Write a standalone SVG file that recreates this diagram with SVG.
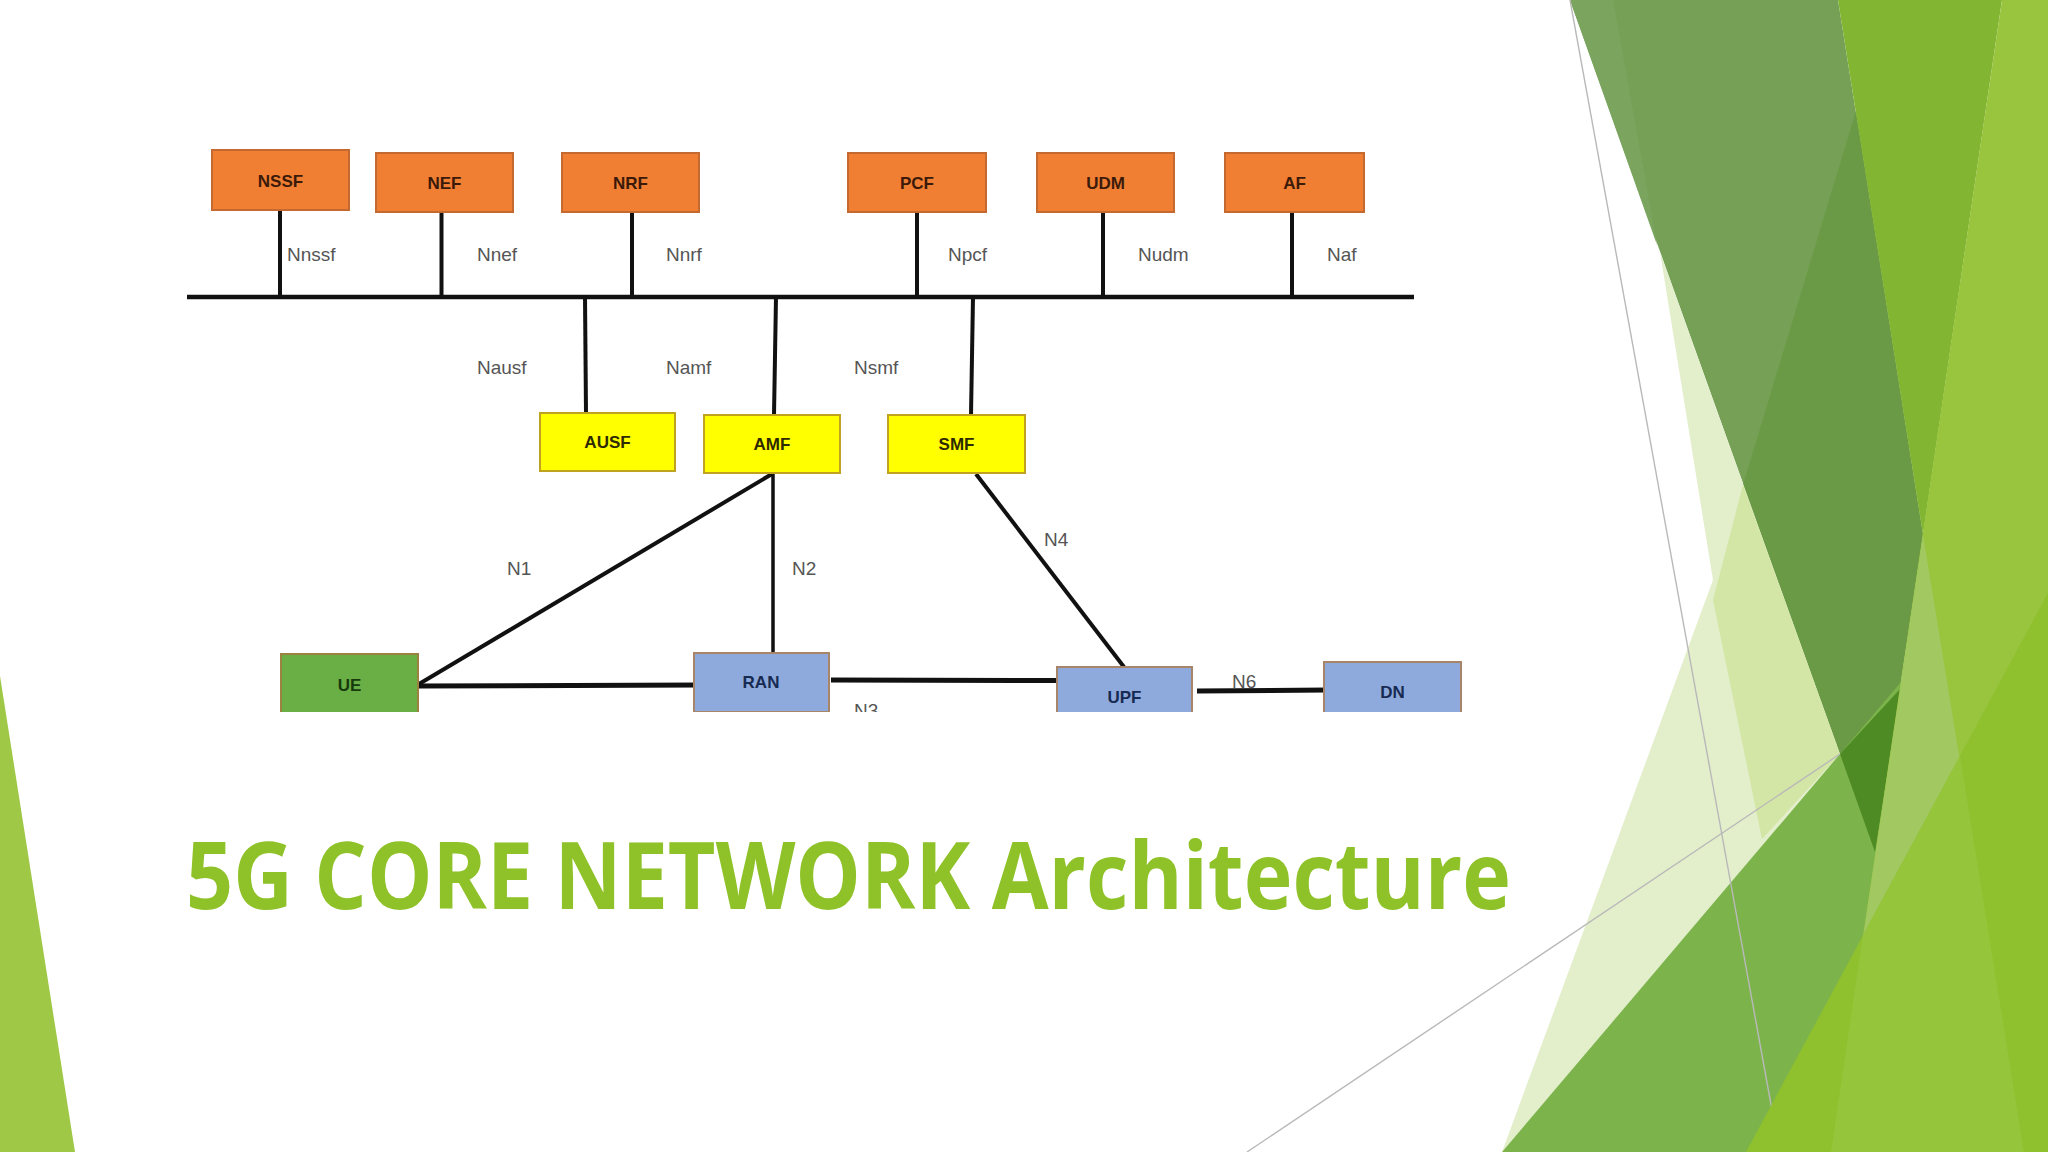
<svg xmlns="http://www.w3.org/2000/svg" width="2048" height="1152" viewBox="0 0 2048 1152">
  <defs>
    <style>
      .lbl { font-family: "Liberation Sans", Arial, sans-serif; font-size: 19px; fill: #555555; }
      .nt { font-family: "Liberation Sans", Arial, sans-serif; font-size: 17px; font-weight: bold; text-anchor: middle; }
      .org { fill: #f07f33; stroke: #c46a30; stroke-width: 2; }
      .yel { fill: #ffff00; stroke: #bfa21f; stroke-width: 2; }
      .grn { fill: #6aaf45; stroke: #9a8240; stroke-width: 2; }
      .blu { fill: #8eaadc; stroke: #a88468; stroke-width: 2; }
      .to { fill: #3b1a0a; }
      .ty { fill: #2e2a00; }
      .tg { fill: #173a0c; }
      .tb { fill: #172a52; }
      .ln { stroke: #111111; stroke-linecap: butt; fill: none; }
      .thin { stroke: #b9b9b9; stroke-width: 1.4; fill: none; }
    </style>
    <clipPath id="cut">
      <rect x="0" y="0" width="1520" height="712"/>
    </clipPath>
  </defs>

  <rect width="2048" height="1152" fill="#ffffff"/>

  <!-- decorative background -->
  <g id="decor">
    <polygon points="0,676 75,1152 0,1152" fill="#a0c847"/>
    <polygon points="1570,0 1838,0 1923,535 1875,852" fill="#75a056"/>
    <polygon points="1570,0 1613,0 1657,245" fill="#7ba55f"/>
    <polygon points="1856,111 1923,535 1875,852 1743,485" fill="#6a9a45"/>
    <polygon points="1660,252 1840,754 1502,1152 1713,580" fill="#e3eecb"/>
    <polygon points="1743,485 1840,754 1762,839 1713,600" fill="#d3e6a6"/>
    <polygon points="1502,1152 2048,509 2048,1152" fill="#7cb44b"/>
    <polygon points="1840,754 1901,688 1875,852" fill="#4f8b24"/>
    <polygon points="1838,0 2002,0 1923,535" fill="#82b532"/>
    <polygon points="2002,0 2048,0 2048,1152 1831,1152" fill="#99c43e"/>
    <polygon points="1923,535 2024,1152 1831,1152" fill="#a2c862"/>
    <line class="thin" x1="1570" y1="0" x2="1772" y2="1110"/>
    <line class="thin" x1="1247" y1="1152" x2="1840" y2="754"/>
    <polygon points="1746,1152 2048,593 2048,1152" fill="#8fc02e"/>
    <polygon points="1960,756 2024,1152 1831,1152 1863,935" fill="#95c53a"/>
  </g>

  <g id="diagram" clip-path="url(#cut)">
    <g id="connectors">
      <line class="ln" stroke-width="4.5" x1="187" y1="297" x2="1414" y2="297"/>
      <line class="ln" stroke-width="4" x1="280" y1="210" x2="280" y2="297"/>
      <line class="ln" stroke-width="4" x1="441.5" y1="212" x2="441.5" y2="297"/>
      <line class="ln" stroke-width="4" x1="632" y1="212" x2="632" y2="297"/>
      <line class="ln" stroke-width="4" x1="917" y1="212" x2="917" y2="297"/>
      <line class="ln" stroke-width="4" x1="1103" y1="212" x2="1103" y2="297"/>
      <line class="ln" stroke-width="4" x1="1292" y1="212" x2="1292" y2="297"/>
      <line class="ln" stroke-width="4" x1="585" y1="297" x2="586" y2="413"/>
      <line class="ln" stroke-width="4" x1="776" y1="297" x2="774" y2="415"/>
      <line class="ln" stroke-width="4" x1="973" y1="297" x2="971" y2="415"/>
      <line class="ln" stroke-width="4" x1="419" y1="684" x2="772" y2="474"/>
      <line class="ln" stroke-width="5" x1="419" y1="686" x2="700" y2="685"/>
      <line class="ln" stroke-width="3.5" x1="773" y1="473" x2="773" y2="653"/>
      <line class="ln" stroke-width="5" x1="831" y1="680" x2="1060" y2="680.5"/>
      <line class="ln" stroke-width="4" x1="976" y1="474" x2="1124" y2="667"/>
      <line class="ln" stroke-width="5" x1="1197" y1="691" x2="1327" y2="690"/>
    </g>

    <g id="labels">
      <text class="lbl" x="287" y="261">Nnssf</text>
      <text class="lbl" x="477" y="261">Nnef</text>
      <text class="lbl" x="666" y="261">Nnrf</text>
      <text class="lbl" x="948" y="261">Npcf</text>
      <text class="lbl" x="1138" y="261">Nudm</text>
      <text class="lbl" x="1327" y="261">Naf</text>
      <text class="lbl" x="477" y="374">Nausf</text>
      <text class="lbl" x="666" y="374">Namf</text>
      <text class="lbl" x="854" y="374">Nsmf</text>
      <text class="lbl" x="507" y="575">N1</text>
      <text class="lbl" x="792" y="575">N2</text>
      <text class="lbl" x="1044" y="546">N4</text>
      <text class="lbl" x="1232" y="688">N6</text>
      <text class="lbl" x="854" y="717">N3</text>
    </g>

    <g id="NSSF"><rect class="org" x="212" y="150" width="137" height="60"/><text class="nt to" x="280.5" y="187">NSSF</text></g>
    <g id="NEF"><rect class="org" x="376" y="153" width="137" height="59"/><text class="nt to" x="444.5" y="189">NEF</text></g>
    <g id="NRF"><rect class="org" x="562" y="153" width="137" height="59"/><text class="nt to" x="630.5" y="189">NRF</text></g>
    <g id="PCF"><rect class="org" x="848" y="153" width="138" height="59"/><text class="nt to" x="917" y="189">PCF</text></g>
    <g id="UDM"><rect class="org" x="1037" y="153" width="137" height="59"/><text class="nt to" x="1105.5" y="189">UDM</text></g>
    <g id="AF"><rect class="org" x="1225" y="153" width="139" height="59"/><text class="nt to" x="1294.5" y="189">AF</text></g>

    <g id="AUSF"><rect class="yel" x="540" y="413" width="135" height="58"/><text class="nt ty" x="607.5" y="448">AUSF</text></g>
    <g id="AMF"><rect class="yel" x="704" y="415" width="136" height="58"/><text class="nt ty" x="772" y="450">AMF</text></g>
    <g id="SMF"><rect class="yel" x="888" y="415" width="137" height="58"/><text class="nt ty" x="956.5" y="450">SMF</text></g>

    <g id="UE"><rect class="grn" x="281" y="654" width="137" height="60"/><text class="nt tg" x="349.5" y="691">UE</text></g>
    <g id="RAN"><rect class="blu" x="694" y="653" width="135" height="59"/><text class="nt tb" x="761" y="688">RAN</text></g>
    <g id="UPF"><rect class="blu" x="1057" y="667" width="135" height="58"/><text class="nt tb" x="1124.5" y="703">UPF</text></g>
    <g id="DN"><rect class="blu" x="1324" y="662" width="137" height="60"/><text class="nt tb" x="1392.5" y="698">DN</text></g>
  </g>

  <text id="title" x="186" y="909" font-family="'Open Sans', 'Liberation Sans', sans-serif" font-weight="bold" font-size="93" fill="#8fc229" textLength="1325" lengthAdjust="spacingAndGlyphs">5G CORE NETWORK Architecture</text>
</svg>
